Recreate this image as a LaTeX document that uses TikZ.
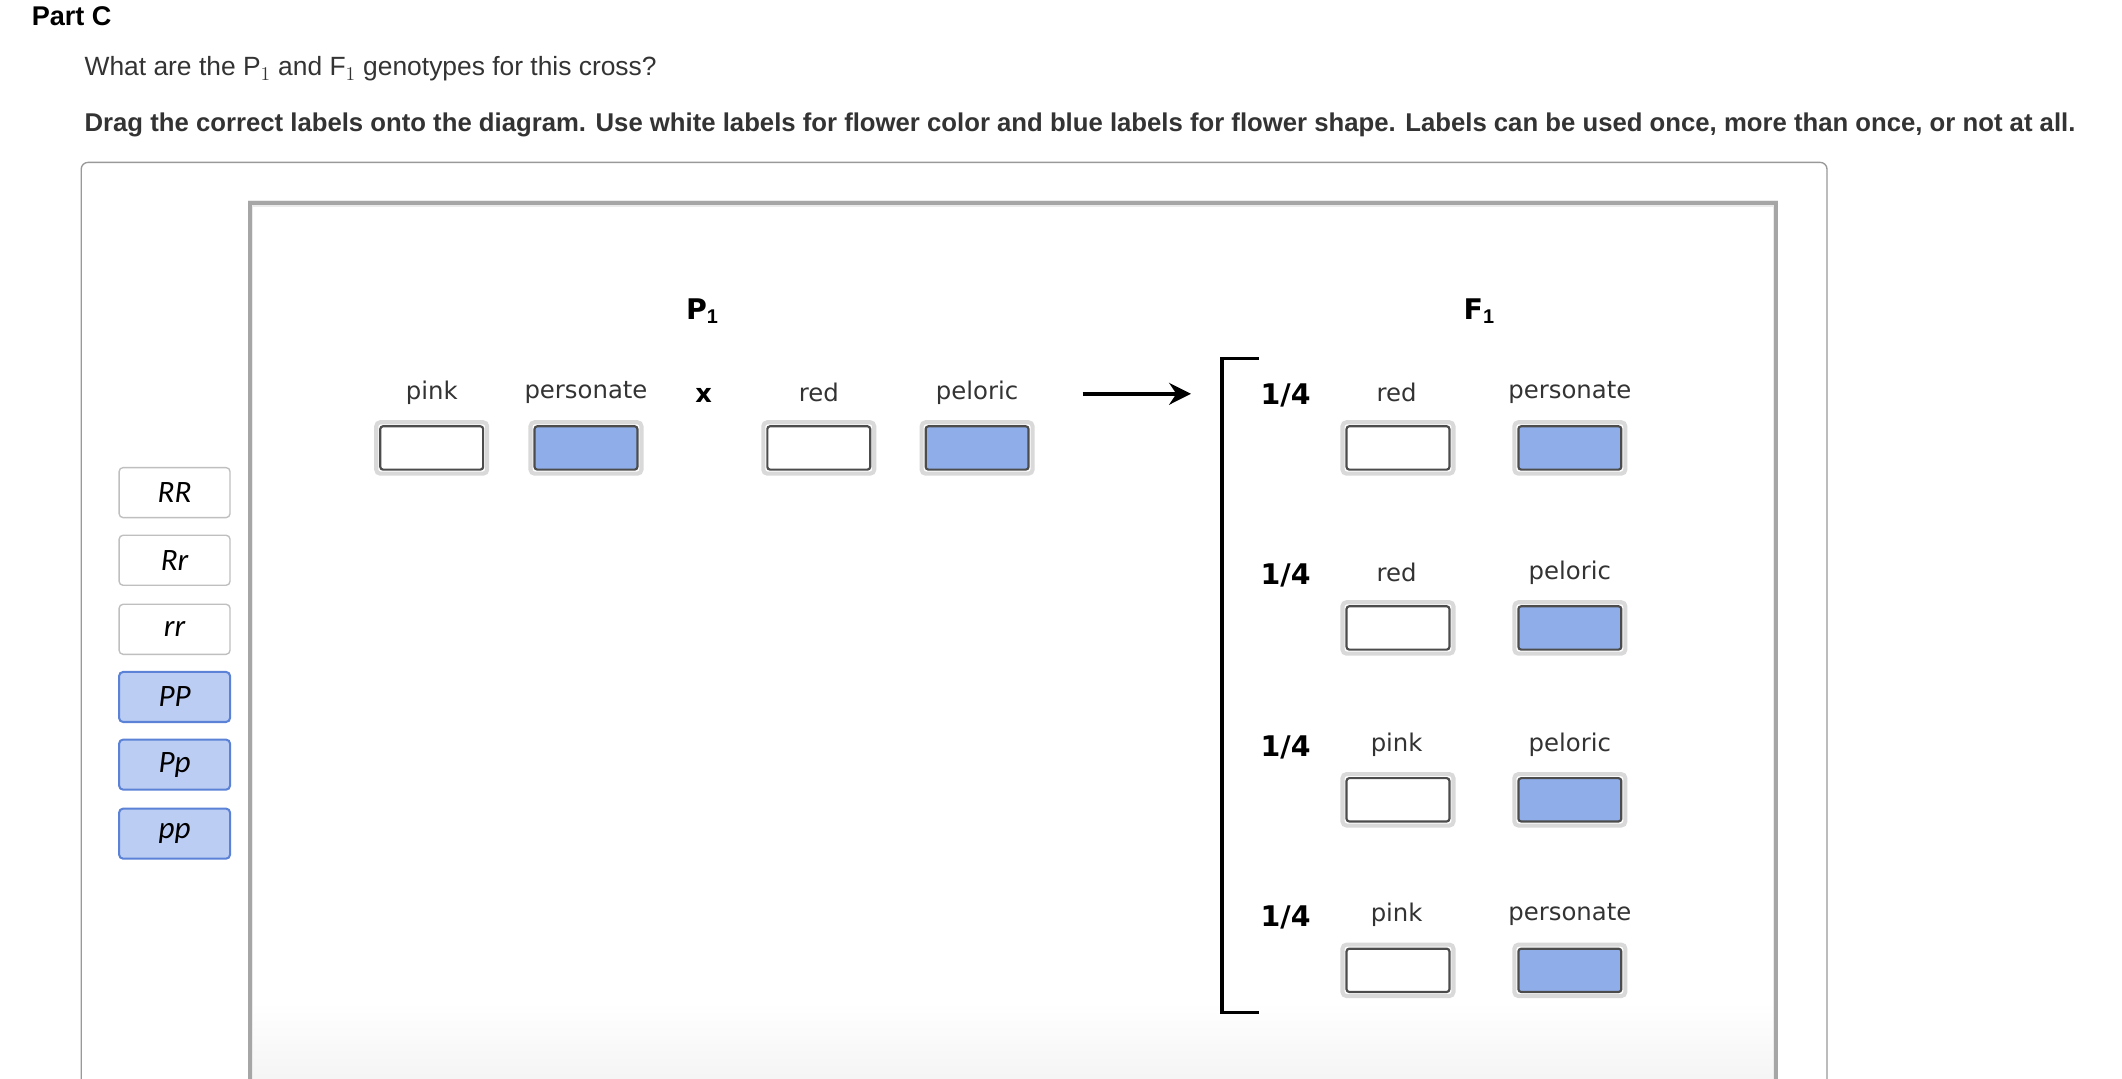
\documentclass[tikz,border=0pt]{standalone}
\usepackage{fontspec}
\usetikzlibrary{arrows.meta}
\setmainfont{Liberation Sans}
\newfontfamily\verd{DejaVu Sans}
\newfontfamily\carl{Carlito}
\definecolor{dropblue}{HTML}{8FADE8}
\definecolor{tileblue}{HTML}{BCCDF3}
\definecolor{tileedge}{HTML}{5B82D6}
\begin{document}
\begin{tikzpicture}[x=1pt,y=-1pt,
  wbox/.style={draw=black!70,line width=1.6pt,fill=white,rounded corners=2pt,minimum width=76pt,minimum height=32pt},
  bbox/.style={wbox,fill=dropblue},
  halo/.style={draw=black!15,line width=3pt,rounded corners=3pt,minimum width=82pt,minimum height=38pt},
  lab/.style={font=\verd\fontsize{18}{21}\selectfont,text=black!80},
  frac/.style={font=\verd\bfseries\fontsize{21}{24}\selectfont},
  wtile/.style={draw=black!25,line width=1pt,fill=white,rounded corners=3pt,minimum width=82pt,minimum height=37pt,font=\carl\itshape\fontsize{23}{25}\selectfont},
  btile/.style={wtile,draw=tileedge,line width=1.5pt,fill=tileblue}]
\useasboundingbox (0,0) rectangle (1568,797);
\fill[white] (0,0) rectangle (1568,797);
\node[anchor=west,font=\bfseries\fontsize{20}{23}\selectfont] (title) at (20,12) {Part C};
\node[anchor=west,font=\fontsize{19.5}{23}\selectfont,text=black!80] (q) at (59,51) {What are the P$_1$ and F$_1$ genotypes for this cross?};
\node[anchor=west,font=\bfseries\fontsize{19}{23}\selectfont,text=black!80] (instr) at (59,92) {Drag the correct labels onto the diagram. Use white labels for flower color and blue labels for flower shape. Labels can be used once, more than once, or not at all.};
% panels
\draw[black!40,line width=1pt,rounded corners=5pt] (60,810) -- (60,120) -- (1350,120) -- (1350,810);
\fill[black!8] (183,148) rectangle (1314,797);
\draw[black!35,line width=3pt] (185,800) -- (185,150) -- (1312,150) -- (1312,800);
\fill[white] (187,153) rectangle (1310,797);
\shade[top color=white,bottom color=black!4] (187,740) rectangle (1310,797);
% headings
\node[font=\verd\bfseries\fontsize{21}{24}\selectfont] (p1) at (519,230) {P$_\mathbf{1}$};
\node[font=\verd\bfseries\fontsize{21}{24}\selectfont] (f1) at (1093,230) {F$_\mathbf{1}$};
% P1 row
\foreach \n/\x/\t/\s in {a/319/pink/wbox,b/433/personate/bbox,c/605/red/wbox,d/722/peloric/bbox}{
  \node[lab] (l\n) at (\x,290) {\t};
  \node[halo] (h\n) at (\x,331) {};
  \node[\s] (box\n) at (\x,331) {};
}
\node[font=\verd\bfseries\fontsize{19}{22}\selectfont] (cross) at (520,292) {x};
\coordinate (as) at (800,291);
\coordinate (ae) at (880,291);
\draw[line width=3pt,-{Stealth[length=16pt,width=16pt]}] (as) -- (ae);
% bracket
\coordinate (bt) at (930,265); \coordinate (bb) at (930,748);
\draw[line width=2.5pt] (bt) -- (903,265) -- (903,748) -- (bb);
% F1 rows
\foreach \i/\y/\c/\s in {1/290/red/personate,2/423/red/peloric,3/550/pink/peloric,4/676/pink/personate}{
  \node[frac] (fr\i) at (950,\y+2) {1/4};
  \node[lab] (c\i) at (1032,\y) {\c};
  \node[lab] (s\i) at (1160,\y) {\s};
  \node[halo] (hw\i) at (1033,\y+41) {};
  \node[wbox] (w\i) at (1033,\y+41) {};
  \node[halo] (hb\i) at (1160,\y+41) {};
  \node[bbox] (b\i) at (1160,\y+41) {};
}
% tiles
\node[wtile] (t1) at (129,364) {RR};
\node[wtile] (t2) at (129,414) {Rr};
\node[wtile] (t3) at (129,465) {rr};
\node[btile] (t4) at (129,515) {PP};
\node[btile] (t5) at (129,565) {Pp};
\node[btile] (t6) at (129,616) {pp};
\end{tikzpicture}
\end{document}
